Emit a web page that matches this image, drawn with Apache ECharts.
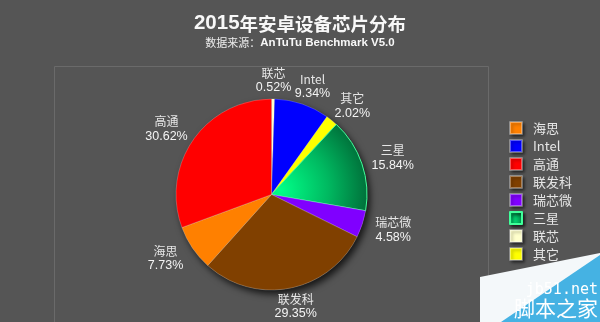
<!DOCTYPE html>
<html><head><meta charset="utf-8">
<script src="https://cdn.jsdelivr.net/npm/echarts@6/dist/echarts.min.js"></script>
<style>html,body{margin:0;padding:0;background:#555555;}#c{width:600px;height:322px;}</style>
</head><body><div id="c"></div>
<script>
// data (slice order clockwise from 12 o'clock)
var names = ['联芯', 'Intel', '其它', '三星', '瑞芯微', '联发科', '海思', '高通'];
var values = [0.52, 9.34, 2.02, 15.84, 4.58, 29.35, 7.73, 30.62];
var legendOrder = ['海思', 'Intel', '高通', '联发科', '瑞芯微', '三星', '联芯', '其它'];
var titleYear = '2015';
var titleRest = '年安卓设备芯片分布';
var subPrefix = '数据来源：';
var subSource = 'AnTuTu Benchmark V5.0';

var colors = {
  '联芯': '#FFFFCC',
  'Intel': '#0000FF',
  '其它': '#FFFF00',
  '三星': {type: 'radial', x: 0.1, y: 0.75, r: 1.0, colorStops: [{offset: 0, color: '#00FF88'}, {offset: 0.55, color: '#00B860'}, {offset: 1, color: '#00703A'}]},
  '瑞芯微': '#8000FF',
  '联发科': '#804000',
  '海思': '#FF8000',
  '高通': '#FF0000'
};

var CX = 271.5, CY = 194.5, R = 95.5;
var LRX = 128, LRY = 114;
var total = values.reduce(function (a, b) { return a + b; }, 0);
var mids = [];
(function () { var acc = 0; for (var i = 0; i < values.length; i++) { mids.push((acc + values[i] / 2) / total * Math.PI * 2); acc += values[i]; } })();

var chart = echarts.init(document.getElementById('c'), null, {renderer: 'canvas'});
chart.setOption({
  backgroundColor: '#555555',
  animation: false,
  title: {
    left: 'center', top: 8, itemGap: 3,
    text: '{a|' + titleYear + '}{b|' + titleRest + '}',
    textStyle: {
      rich: {
        a: {fontFamily: 'Liberation Sans', fontWeight: 'bold', fontSize: 20.5, color: '#f8f8f8'},
        b: {fontFamily: 'Noto Sans CJK SC', fontWeight: 'bold', fontSize: 18.5, color: '#f8f8f8'}
      }
    },
    subtext: '{a|' + subPrefix + '}{b|' + subSource + '}',
    subtextStyle: {
      rich: {
        a: {fontFamily: 'Noto Sans CJK SC', fontSize: 11, color: '#eeeeee'},
        b: {fontFamily: 'Liberation Sans', fontWeight: 'bold', fontSize: 11.5, color: '#f8f8f8'}
      }
    }
  },
  legend: {
    orient: 'vertical', left: 509, top: 121, padding: 0,
    itemWidth: 12, itemHeight: 12, itemGap: 4,
    data: legendOrder,
    icon: 'rect',
    textStyle: {color: '#e6e6e6', fontSize: 13, fontFamily: 'Noto Sans CJK SC', padding: [0, 0, 0, 6], lineHeight: 13},
    itemStyle: {shadowBlur: 3, shadowOffsetX: 2, shadowOffsetY: 2, shadowColor: 'rgba(0,0,0,0.6)'}
  },
  graphic: [
    {type: 'rect', silent: true, z: -10, shape: {x: 54.5, y: 66.5, width: 434, height: 300}, style: {fill: null, stroke: '#6a6a6a', lineWidth: 1}},
    {type: 'polygon', silent: true, z: 100, shape: {points: [[480, 277], [600, 253], [600, 322], [480, 322]]}, style: {fill: '#f4f8fa'}},
    {type: 'polygon', silent: true, z: 101, shape: {points: [[600, 255], [600, 322], [501, 322]]}, style: {fill: '#45b2e3'}},
    {type: 'text', silent: true, z: 102, x: 598, y: 283, style: {text: 'jb51.net', fill: '#ffffff', fontSize: 15, fontFamily: 'DejaVu Sans Mono', align: 'right'}},
    {type: 'text', silent: true, z: 102, x: 598, y: 298, style: {text: '脚本之家', fill: '#ffffff', fontSize: 21, fontFamily: 'Noto Sans CJK SC', align: 'right'}}
  ],
  series: [
    {
      type: 'pie', z: 1, silent: true, center: [CX, CY], radius: R,
      label: {show: false}, labelLine: {show: false},
      data: [{value: 1, name: '_shadow', itemStyle: {color: '#555555', shadowBlur: 7, shadowOffsetX: 3, shadowOffsetY: 4, shadowColor: 'rgba(0,0,0,0.75)'}}]
    },
    {
      type: 'pie', z: 2, center: [CX, CY], radius: R, startAngle: 90, clockwise: true,
      avoidLabelOverlap: false,
      itemStyle: {borderColor: 'rgba(255,255,255,0.35)', borderWidth: 0.6},
      data: names.map(function (n, i) {
        var it = {name: n, value: values[i], itemStyle: {color: colors[n]}};
        if (n === '三星') { it.itemStyle.borderColor = '#40ff9a'; it.itemStyle.borderWidth = 1; }
        return it;
      }),
      labelLine: {show: false},
      label: {
        show: true,
        formatter: function (p) { return '{n|' + p.name + '}\n{v|' + p.value.toFixed(2) + '%}'; },
        rich: {
          n: {fontFamily: 'Noto Sans CJK SC', fontSize: 12, color: '#e6e6e6', lineHeight: 15, align: 'center'},
          v: {fontFamily: 'Liberation Sans', fontSize: 12.5, color: '#f4f4f4', lineHeight: 15, align: 'center'}
        }
      },
      labelLayout: function (p) {
        var a = mids[p.dataIndex];
        return {x: CX + LRX * Math.sin(a), y: CY - LRY * Math.cos(a), align: 'center', verticalAlign: 'middle'};
      }
    }
  ]
});
</script></body></html>
